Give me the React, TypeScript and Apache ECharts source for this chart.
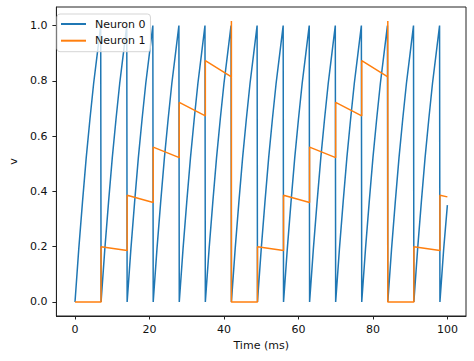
import React, { useEffect, useRef } from "react";
import * as echarts from "echarts";

const xTicks = [0, 20, 40, 60, 80, 100];
const yTicks = [0, 0.2, 0.4, 0.6, 0.8, 1.0];
const seriesNames = ["Neuron 0", "Neuron 1"];

// Neuron 0 membrane potential [time ms, v]
const neuron0: number[][] = [
  [0, 0], [1, 0.19], [2, 0.36], [3, 0.52], [4, 0.66], [5, 0.79], [6, 0.9], [6.9, 1.0],
  [7, 0], [8, 0.19], [9, 0.36], [10, 0.52], [11, 0.66], [12, 0.79], [13, 0.9], [13.9, 1.0],
  [14, 0], [15, 0.19], [16, 0.36], [17, 0.52], [18, 0.66], [19, 0.79], [20, 0.9], [20.9, 1.0],
  [21, 0], [22, 0.19], [23, 0.36], [24, 0.52], [25, 0.66], [26, 0.79], [27, 0.9], [27.9, 1.0],
  [28, 0], [29, 0.19], [30, 0.36], [31, 0.52], [32, 0.66], [33, 0.79], [34, 0.9], [34.9, 1.0],
  [35, 0], [36, 0.19], [37, 0.36], [38, 0.52], [39, 0.66], [40, 0.79], [41, 0.9], [41.9, 1.0],
  [42, 0], [43, 0.19], [44, 0.36], [45, 0.52], [46, 0.66], [47, 0.79], [48, 0.9], [48.9, 1.0],
  [49, 0], [50, 0.19], [51, 0.36], [52, 0.52], [53, 0.66], [54, 0.79], [55, 0.9], [55.9, 1.0],
  [56, 0], [57, 0.19], [58, 0.36], [59, 0.52], [60, 0.66], [61, 0.79], [62, 0.9], [62.9, 1.0],
  [63, 0], [64, 0.19], [65, 0.36], [66, 0.52], [67, 0.66], [68, 0.79], [69, 0.9], [69.9, 1.0],
  [70, 0], [71, 0.19], [72, 0.36], [73, 0.52], [74, 0.66], [75, 0.79], [76, 0.9], [76.9, 1.0],
  [77, 0], [78, 0.19], [79, 0.36], [80, 0.52], [81, 0.66], [82, 0.79], [83, 0.9], [83.9, 1.0],
  [84, 0], [85, 0.19], [86, 0.36], [87, 0.52], [88, 0.66], [89, 0.79], [90, 0.9], [90.9, 1.0],
  [91, 0], [92, 0.19], [93, 0.36], [94, 0.52], [95, 0.66], [96, 0.79], [97, 0.9], [97.9, 1.0],
  [98, 0], [99, 0.19], [100, 0.35],
];

// Neuron 1 membrane potential [time ms, v]
const neuron1: number[][] = [
  [0, 0], [7, 0], [7, 0.2], [14, 0.186], [14, 0.386], [21, 0.36], [21, 0.56],
  [28, 0.522], [28, 0.722], [35, 0.673], [35, 0.873], [42, 0.814], [42, 1.016], [42, 0],
  [49, 0], [49, 0.2], [56, 0.186], [56, 0.386], [63, 0.36], [63, 0.56],
  [70, 0.522], [70, 0.722], [77, 0.673], [77, 0.873], [84, 0.814], [84, 1.016], [84, 0],
  [91, 0], [91, 0.2], [98, 0.186], [98, 0.386], [100, 0.38],
];

const FONT = "DejaVu Sans";
const FS = 11;

export default function App() {
  const ref = useRef<HTMLDivElement>(null);
  useEffect(() => {
    document.body.style.margin = "0";
    if (!ref.current) return;
    const chart = echarts.init(ref.current, null, { renderer: "svg" });
    const axisCommon = {
      axisLine: { show: true, onZero: false, lineStyle: { color: "#222", width: 1 } },
      splitLine: { show: false },
    };
    chart.setOption({
      animation: false,
      backgroundColor: "#fff",
      textStyle: { fontFamily: FONT },
      grid: {
        left: 52,
        right: 8,
        top: 7,
        bottom: 45,
        show: true,
        borderColor: "#222",
        borderWidth: 1,
        backgroundColor: "transparent",
      },
      legend: {
        data: seriesNames,
        orient: "vertical",
        left: 57,
        top: 14,
        itemWidth: 25,
        itemHeight: 2,
        itemGap: 4.7,
        icon: "rect",
        padding: [4, 5, 5, 4],
        borderColor: "#d5d5d5",
        borderWidth: 1,
        borderRadius: 3,
        backgroundColor: "rgba(255,255,255,0.8)",
        textStyle: {
          fontFamily: FONT,
          fontSize: FS,
          color: "#111",
          lineHeight: 12,
          padding: [0, 0, 0, 4],
        },
      },
      xAxis: {
        type: "value",
        min: -5,
        max: 105,
        name: "Time (ms)",
        nameLocation: "middle",
        nameGap: 24,
        nameTextStyle: { fontFamily: FONT, fontSize: FS, color: "#111" },
        ...axisCommon,
        axisTick: {
          show: true,
          length: 3.5,
          lineStyle: { color: "#222" },
          customValues: xTicks,
        },
        axisLabel: {
          fontFamily: FONT,
          fontSize: FS,
          color: "#111",
          margin: 8,
          customValues: xTicks,
          formatter: (v: number) => String(v),
        },
      },
      yAxis: {
        type: "value",
        min: -0.0508,
        max: 1.0668,
        name: "v",
        nameLocation: "middle",
        nameGap: 36,
        nameRotate: 90,
        nameTextStyle: { fontFamily: FONT, fontSize: FS, color: "#111" },
        ...axisCommon,
        axisTick: {
          show: true,
          length: 4,
          lineStyle: { color: "#222" },
          customValues: yTicks,
        },
        axisLabel: {
          fontFamily: FONT,
          fontSize: FS,
          color: "#111",
          margin: 9,
          customValues: yTicks,
          formatter: (v: number) => v.toFixed(1),
        },
      },
      series: [
        {
          name: seriesNames[0],
          type: "line",
          data: neuron0,
          showSymbol: false,
          symbol: "none",
          lineStyle: { color: "#1f77b4", width: 1.5 },
          itemStyle: { color: "#1f77b4" },
          z: 2,
        },
        {
          name: seriesNames[1],
          type: "line",
          data: neuron1,
          showSymbol: false,
          symbol: "none",
          lineStyle: { color: "#ff7f0e", width: 1.5 },
          itemStyle: { color: "#ff7f0e" },
          z: 3,
        },
      ],
    });
    return () => chart.dispose();
  }, []);
  return <div ref={ref} style={{ width: 474, height: 361 }} />;
}
